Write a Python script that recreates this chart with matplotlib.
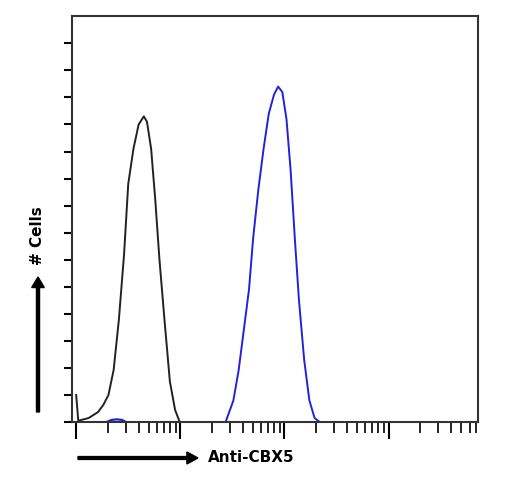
import numpy as np
from matplotlib import pyplot as plt
from matplotlib.ticker import LogLocator, NullFormatter

# log10 of fluorescence, and counts (arbitrary units)
black_logx = [0.0, 0.02, 0.12, 0.21, 0.26, 0.31, 0.36, 0.41, 0.46, 0.50, 0.55, 0.60, 0.65, 0.68,
              0.72, 0.76, 0.80, 0.85, 0.90, 0.95, 0.99]
black_y = [1.0, 0.05, 0.15, 0.37, 0.63, 1.0, 1.93, 3.78, 6.2, 8.8, 10.1, 11.0, 11.3, 11.1,
           10.1, 8.2, 6.0, 3.7, 1.5, 0.45, 0.05]
blue_bump_logx = [0.29, 0.34, 0.39, 0.44, 0.48]
blue_bump_y = [0.0, 0.08, 0.1, 0.08, 0.0]
blue_logx = [1.44, 1.51, 1.56, 1.61, 1.66, 1.70, 1.75, 1.80,
             1.85, 1.90, 1.94, 1.98, 2.02, 2.06, 2.10, 2.14, 2.19, 2.24, 2.29, 2.33]
blue_y = [0.05, 0.8, 1.9, 3.4, 4.9, 6.8, 8.6, 10.1,
          11.4, 12.1, 12.4, 12.2, 11.2, 9.3, 6.8, 4.5, 2.3, 0.8, 0.15, 0.03]

fig = plt.figure(figsize=(5.05, 4.78), dpi=100)
ax = fig.add_axes([0.1426, 0.117, 0.804, 0.849])

ax.plot(10 ** np.array(black_logx), black_y, color='#222222', lw=1.4)
ax.plot(10 ** np.array(blue_bump_logx), blue_bump_y, color='#2222dd', lw=1.6)
ax.plot(10 ** np.array(blue_logx), blue_y, color='#2222dd', lw=1.4)

ax.set_xscale('log')
ax.set_xlim(10 ** -0.04, 10 ** 3.86)
ax.set_ylim(0, 15)
ax.set_yticks(np.arange(0, 15))
ax.yaxis.set_major_formatter(NullFormatter())
ax.xaxis.set_major_locator(LogLocator(base=10, numticks=10))
ax.xaxis.set_minor_locator(LogLocator(base=10, subs=np.arange(2, 10), numticks=10))
ax.xaxis.set_major_formatter(NullFormatter())
ax.xaxis.set_minor_formatter(NullFormatter())
ax.tick_params(axis='y', direction='out', length=6, width=1.5)
ax.tick_params(axis='x', which='major', direction='out', length=12, width=1.5)
ax.tick_params(axis='x', which='minor', direction='out', length=8, width=1.2)
for s in ax.spines.values():
    s.set_linewidth(1.5)
    s.set_color('#333333')

# axis labels with arrows
fig.patches.append(plt.matplotlib.patches.FancyArrow(
    78 / 505, 1 - 458 / 478, 120 / 505, 0, width=0.006, head_width=0.025, head_length=0.022,
    color='black', transform=fig.transFigure, length_includes_head=True))
fig.text(208 / 505, 1 - 458 / 478, 'Anti-CBX5', fontsize=11, fontweight='bold', va='center')
fig.patches.append(plt.matplotlib.patches.FancyArrow(
    38 / 505, 1 - 412 / 478, 0, 135 / 478, width=0.006, head_width=0.025, head_length=0.022,
    color='black', transform=fig.transFigure, length_includes_head=True))
fig.text(38 / 505, 1 - 236 / 478, '# Cells', fontsize=11, fontweight='bold', rotation=90,
         ha='center', va='center')

fig.savefig('out.png', dpi=100)
